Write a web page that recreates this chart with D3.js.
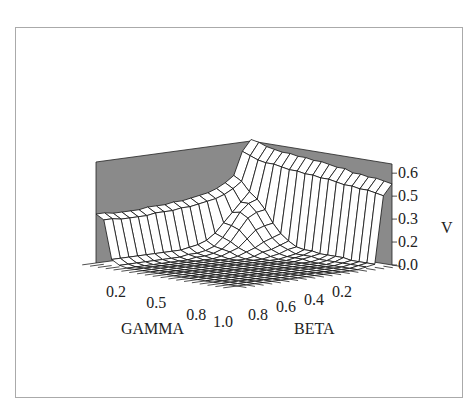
<!DOCTYPE html>
<html><head><meta charset="utf-8">
<script src="https://cdn.jsdelivr.net/npm/d3@7"></script>
<style>body{margin:0;background:#fff}text{font-family:"Liberation Serif","DejaVu Serif",serif;font-size:16px;fill:#222}</style>
</head><body><svg id="c" width="474" height="406"></svg>
<script>
const gammaVals = d3.range(19).map(i => +(0.1 + i*0.05).toFixed(2));
const betaVals = d3.range(19).map(j => +(0.1 + j*0.05).toFixed(2));
// V[i][j]: i = gamma index, j = beta index
const V = [
[0.67,0.60,0.45,0.41,0.38,0.36,0.35,0.34,0.33,0.33,0.32,0.32,0.32,0.31,0.31,0.31,0.31,0.32,0.32],
[0.66,0.58,0.42,0.38,0.35,0.33,0.32,0.31,0.30,0.30,0.29,0.29,0.29,0.28,0.28,0.28,0.28,0.29,0.29],
[0.64,0.56,0.36,0.30,0.24,0.18,0.12,0.08,0.06,0.05,0.04,0.04,0.04,0.04,0.04,0.04,0.04,0.04,0.04],
[0.63,0.55,0.32,0.30,0.25,0.17,0.10,0.05,0.03,0.02,0.02,0.01,0.01,0.01,0.01,0.01,0.01,0.01,0.01],
[0.62,0.55,0.26,0.25,0.22,0.15,0.08,0.04,0.02,0.01,0.01,0,0,0,0,0,0,0,0],
[0.62,0.54,0.18,0.17,0.15,0.10,0.05,0.03,0.01,0,0,0,0,0,0,0,0,0,0],
[0.61,0.53,0.12,0.10,0.08,0.05,0.03,0.01,0,0,0,0,0,0,0,0,0,0,0],
[0.61,0.53,0.08,0.06,0.04,0.03,0.01,0,0,0,0,0,0,0,0,0,0,0,0],
[0.60,0.52,0.05,0.04,0.02,0.01,0,0,0,0,0,0,0,0,0,0,0,0,0],
[0.60,0.52,0.04,0.02,0.01,0,0,0,0,0,0,0,0,0,0,0,0,0,0],
[0.59,0.51,0.04,0.02,0.01,0,0,0,0,0,0,0,0,0,0,0,0,0,0],
[0.58,0.51,0.03,0.02,0.01,0,0,0,0,0,0,0,0,0,0,0,0,0,0],
[0.58,0.50,0.03,0.01,0,0,0,0,0,0,0,0,0,0,0,0,0,0,0],
[0.56,0.49,0.03,0.01,0,0,0,0,0,0,0,0,0,0,0,0,0,0,0],
[0.56,0.49,0.03,0.01,0,0,0,0,0,0,0,0,0,0,0,0,0,0,0],
[0.55,0.48,0.02,0.01,0,0,0,0,0,0,0,0,0,0,0,0,0,0,0],
[0.55,0.48,0.02,0.01,0,0,0,0,0,0,0,0,0,0,0,0,0,0,0],
[0.54,0.47,0.02,0.01,0,0,0,0,0,0,0,0,0,0,0,0,0,0,0],
[0.53,0.46,0.02,0.01,0,0,0,0,0,0,0,0,0,0,0,0,0,0,0]];
const zTickVals = [0,0.15,0.3,0.45,0.6];
const zTickLabels = ["0.0","0.2","0.3","0.5","0.6"];
const gammaTicks = [0.2,0.5,0.8,1.0];
const betaTicks = [0.2,0.4,0.6,0.8];

const svg = d3.select("#c");
const tS = d3.scaleLinear().domain([0.1,1.0]).range([0,1]); // gamma
const sS = d3.scaleLinear().domain([0.1,1.0]).range([0,1]); // beta
const zS = d3.scaleLinear().domain([0,0.66]).range([0,101]);
const back=[251,242], left=[96,263], right=[392,265];
function P(g,b,z){const t=tS(g), s=sS(b);
  return [back[0]+t*(right[0]-back[0])+s*(left[0]-back[0]),
          back[1]+t*(right[1]-back[1])+s*(left[1]-back[1])-zS(z)];}

svg.append("rect").attr("x",15.5).attr("y",27.5).attr("width",447).attr("height",370)
  .attr("fill","none").attr("stroke","#aaa");

const zTop=0.66;
const wall = pts => svg.append("polygon").attr("points",pts.map(p=>p.join(",")).join(" "))
  .attr("fill","#8a8a8a").attr("stroke","#222").attr("stroke-width",0.8);
wall([P(0.1,0.1,0),P(0.1,0.1,zTop),P(0.1,1,zTop),P(0.1,1,0)]);
wall([P(0.1,0.1,0),P(0.1,0.1,zTop),P(1,0.1,zTop),P(1,0.1,0)]);

const quads=[];
for(let i=0;i<18;i++)for(let j=0;j<18;j++)quads.push([i,j]);
quads.sort((a,b)=>(a[0]+a[1])-(b[0]+b[1]));
svg.append("g").selectAll("polygon").data(quads).join("polygon")
  .attr("points",([i,j])=>[[i,j],[i+1,j],[i+1,j+1],[i,j+1]]
     .map(([a,b])=>P(gammaVals[a],betaVals[b],V[a][b]).join(",")).join(" "))
  .attr("fill","#fff").attr("stroke","#111").attr("stroke-width",0.8).attr("stroke-linejoin","round");

const tk=svg.append("g").attr("stroke","#222").attr("stroke-width",0.8);
gammaVals.forEach(g=>{const a=P(g,1,0), b=P(g,1.08,0);tk.append("line").attr("x1",a[0]).attr("y1",a[1]).attr("x2",b[0]).attr("y2",b[1]);});
betaVals.forEach(bv=>{const a=P(1,bv,0), b=P(1.06,bv,0);tk.append("line").attr("x1",a[0]).attr("y1",a[1]).attr("x2",b[0]).attr("y2",b[1]);});
zTickVals.forEach((z,k)=>{const a=P(1,0.1,z);
  tk.append("line").attr("x1",a[0]).attr("y1",a[1]).attr("x2",a[0]+5).attr("y2",a[1]);
  svg.append("text").attr("x",a[0]+6).attr("y",a[1]+5).text(zTickLabels[k]);});
svg.append("text").attr("x",441).attr("y",233).text("V");

const gx=d3.scaleLinear().domain([0.2,1.0]).range([106,213]), gy=d3.scaleLinear().domain([0.2,1.0]).range([297,327]);
gammaTicks.forEach(g=>svg.append("text").attr("x",gx(g)).attr("y",gy(g)).text(g.toFixed(1)));
const bx=d3.scaleLinear().domain([0.2,0.8]).range([332,248]), by=d3.scaleLinear().domain([0.2,0.8]).range([297,320]);
betaTicks.forEach(b=>svg.append("text").attr("x",bx(b)).attr("y",by(b)).text(b.toFixed(1)));
svg.append("text").attr("x",121).attr("y",334).text("GAMMA");
svg.append("text").attr("x",294).attr("y",334).text("BETA");
</script></body></html>
